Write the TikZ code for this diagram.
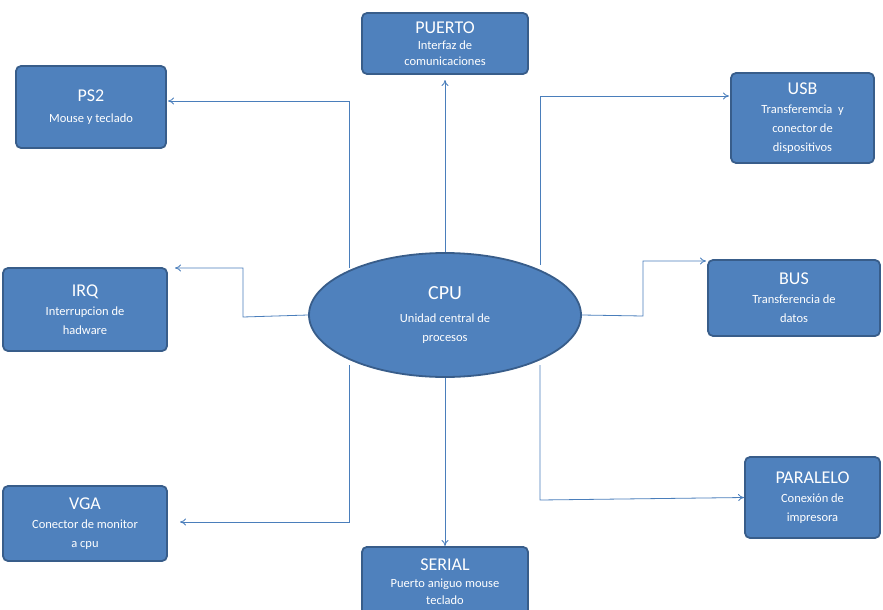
\documentclass[tikz,border=0pt]{standalone}
\usepackage{fontspec}
\setmainfont{Carlito}
\usetikzlibrary{shapes.geometric,arrows.meta}
\definecolor{bfill}{HTML}{4F81BD}
\definecolor{bdraw}{HTML}{385D8A}
\definecolor{lcol}{HTML}{4A7EBB}
\newcommand{\ttl}[1]{{\fontsize{18}{20}\selectfont #1}}
\begin{document}
\begin{tikzpicture}[x=1pt,y=-1pt,
  box/.style={draw=bdraw,line width=1.8pt,fill=bfill,rounded corners=5pt,text=white,align=center,inner sep=0pt,font=\fontsize{12.5}{19}\selectfont},
  conn/.style={draw=lcol,line width=0.8pt,-{To[length=6pt,width=7pt]}}]
\useasboundingbox (0,0) rectangle (883,610);
\node[box,minimum width=166,minimum height=61] (puerto) at (445,43.5) {\ttl{PUERTO}\\[-3pt]Interfaz de\\[-3pt]comunicaciones};
\node[box,minimum width=150,minimum height=82] (ps2) at (91,107) {\ttl{PS2}\\[2pt]Mouse y teclado};
\node[box,minimum width=143,minimum height=90] (usb) at (802.5,118) {\ttl{USB}\\Transferemcia\ \ y\\conector de\\dispositivos};
\node[box,minimum width=164,minimum height=83] (irq) at (85,309.5) {\ttl{IRQ}\\Interrupcion de\\hadware};
\node[box,minimum width=172,minimum height=76] (bus) at (794,298) {\ttl{BUS}\\Transferencia de\\datos};
\node[box,ellipse,minimum width=272,minimum height=124] (cpu) at (445,315) {{\fontsize{20}{22}\selectfont CPU}\\[4pt]Unidad central de\\procesos};
\node[box,minimum width=164,minimum height=75] (vga) at (85,523.5) {\ttl{VGA}\\Conector de monitor\\a cpu};
\node[box,minimum width=166,minimum height=70,anchor=north] (serial) at (445,546) {\ttl{SERIAL}\\[-2pt]Puerto aniguo mouse\\[-2pt]teclado};
\node[box,minimum width=135,minimum height=81] (paralelo) at (812.5,497.5) {\ttl{PARALELO}\\Conexión de\\impresora};
\coordinate (ps2s) at (349,268);
\coordinate (usbs) at (540,265);
\coordinate (vgas) at (349,365);
\coordinate (pars) at (540,365);
\draw[conn] (cpu.north) -- (445,80);
\draw[conn] (ps2s) -- (349,101) -- (168,101);
\draw[conn] (usbs) -- (540,96) -- (729,96);
\draw[conn] (cpu.west) -- (243,317) -- (243,268) -- (175,268);
\draw[conn] (cpu.east) -- (643,316) -- (643,261) -- (706,261);
\draw[conn] (vgas) -- (349,522) -- (180,522);
\draw[conn] (cpu.south) -- (serial.north);
\draw[conn] (pars) -- (540,500) -- (paralelo.west);
\end{tikzpicture}
\end{document}
